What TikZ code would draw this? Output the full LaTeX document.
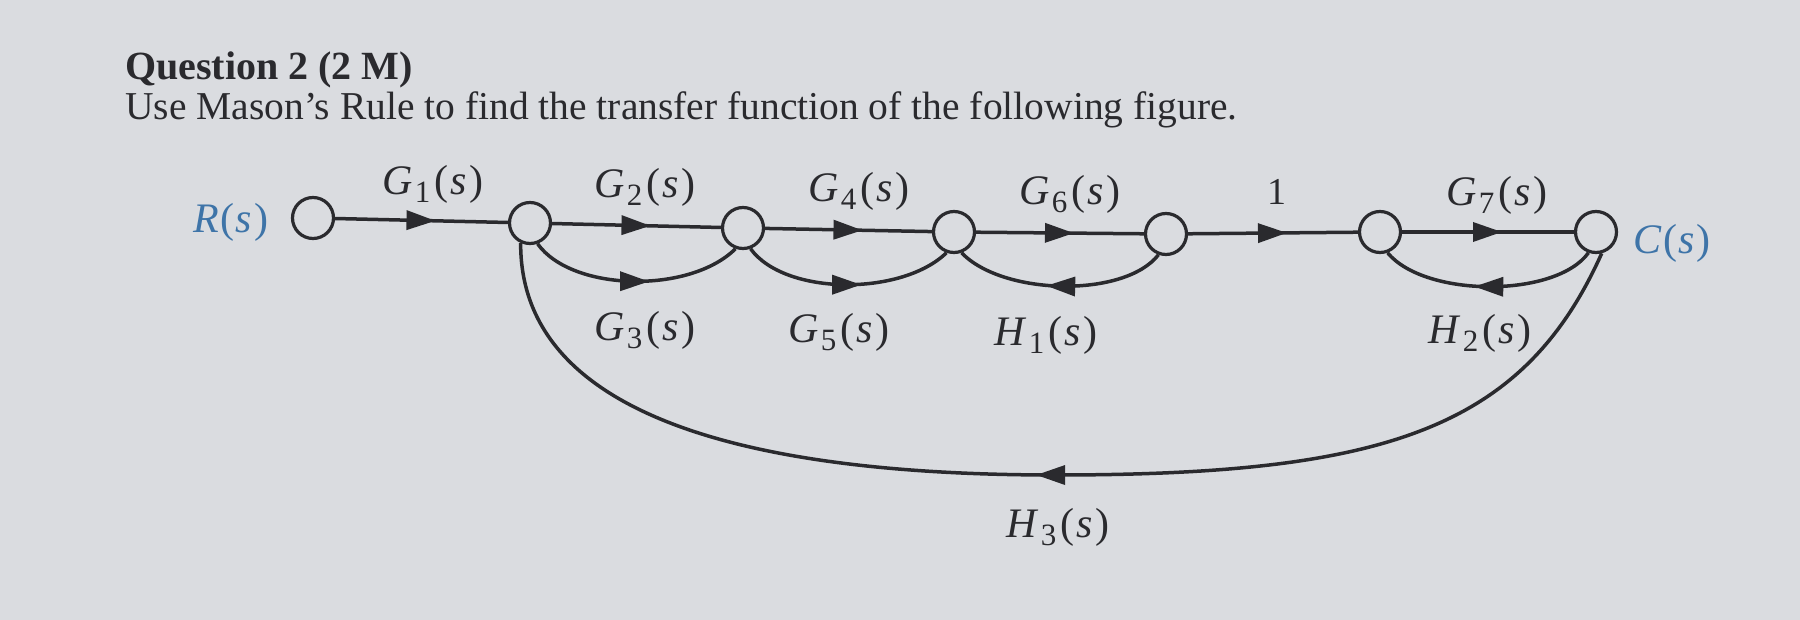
\documentclass[tikz,border=0pt]{standalone}
\usepackage{fontspec}
\setmainfont{Liberation Serif}
\usetikzlibrary{arrows.meta,decorations.markings}
\definecolor{bg}{RGB}{218,220,224}
\definecolor{ink}{RGB}{42,42,46}
\definecolor{sigblue}{RGB}{62,116,168}
\newcommand{\tfn}[2]{\textit{#1}\kern0.04em\raisebox{-0.2em}{\fontsize{31}{31}\selectfont #2}\kern0.1em(\kern0.04em\textit{s}\kern0.06em)}
\begin{document}
\begin{tikzpicture}[x=1pt,y=-1pt,
  snode/.style={circle,draw=ink,line width=3.2pt,minimum size=41pt,inner sep=0pt},
  edge/.style={color=ink,line width=3.5pt},
  midarrow/.style={postaction={decorate},decoration={markings,
      mark=at position #1 with {\arrow[xshift=14pt]{Triangle[length=29pt,width=19pt]}}}},
  midarrow/.default=0.5,
  lab/.style={text=ink,font=\fontsize{42}{42}\selectfont,inner sep=0pt},
  txt/.style={text=ink,anchor=base west,inner sep=0pt}]
\fill[bg] (0,0) rectangle (1800,620);
\useasboundingbox (0,0) rectangle (1800,620);

% title
\node[txt,font=\fontsize{40}{40}\selectfont\bfseries] (title) at (125,80) {Question 2 (2 M)};
\node[txt,font=\fontsize{39.5}{40}\selectfont] (body) at (125,120) {Use Mason’s Rule to find the transfer function of the following figure.};

% signal nodes
\node[snode] (R)  at (313,218) {};
\node[snode] (N1) at (530,223) {};
\node[snode] (N2) at (743,228) {};
\node[snode] (N3) at (954,232) {};
\node[snode] (N4) at (1166,234) {};
\node[snode] (N5) at (1380,232) {};
\node[snode] (C)  at (1596,232) {};

% forward branches
\draw[edge,midarrow] (R) -- (N1);
\draw[edge,midarrow] (N1) -- (N2);
\draw[edge,midarrow] (N2) -- (N3);
\draw[edge,midarrow] (N3) -- (N4);
\draw[edge,midarrow] (N4) -- (N5);
\draw[edge,midarrow] (N5) -- (C);

% lower arcs
\draw[edge,midarrow] (N1.290) .. controls (572,292) and (690,294) .. (N2.250);
\draw[edge,midarrow] (N2.290) .. controls (785,296) and (902,296) .. (N3.250);
\draw[edge,midarrow] (N4.250) .. controls (1125,298) and (1003,296) .. (N3.290);
\draw[edge,midarrow] (C.250) .. controls (1556,298) and (1425,298) .. (N5.290);

% big feedback
\draw[edge,midarrow] (C.285) .. controls (1523,429) and (1385,475) .. (1055,475)
   .. controls (690,475) and (520,392) .. (N1.245);

% labels
\node[lab,text=sigblue] (Rl) at (231,222) {\textit{R}\kern0.03em(\kern0.03em\textit{s}\kern0.05em)};
\node[lab,text=sigblue] (Cl) at (1672,243) {\textit{C}\kern0.03em(\kern0.03em\textit{s}\kern0.05em)};
\node[lab] (g1) at (433,184) {\tfn{G}{1}};
\node[lab] (g2) at (645,187) {\tfn{G}{2}};
\node[lab] (g4) at (859,191) {\tfn{G}{4}};
\node[lab] (g6) at (1070,194) {\tfn{G}{6}};
\node[lab,font=\fontsize{38}{38}\selectfont] (one) at (1277,192) {1};
\node[lab] (g7) at (1497,195) {\tfn{G}{7}};
\node[lab] (g3) at (645,330) {\tfn{G}{3}};
\node[lab] (g5) at (839,332) {\tfn{G}{5}};
\node[lab] (h1) at (1046,335) {\tfn{H}{1}};
\node[lab] (h2) at (1480,333) {\tfn{H}{2}};
\node[lab] (h3) at (1058,527) {\tfn{H}{3}};
\end{tikzpicture}
\end{document}
